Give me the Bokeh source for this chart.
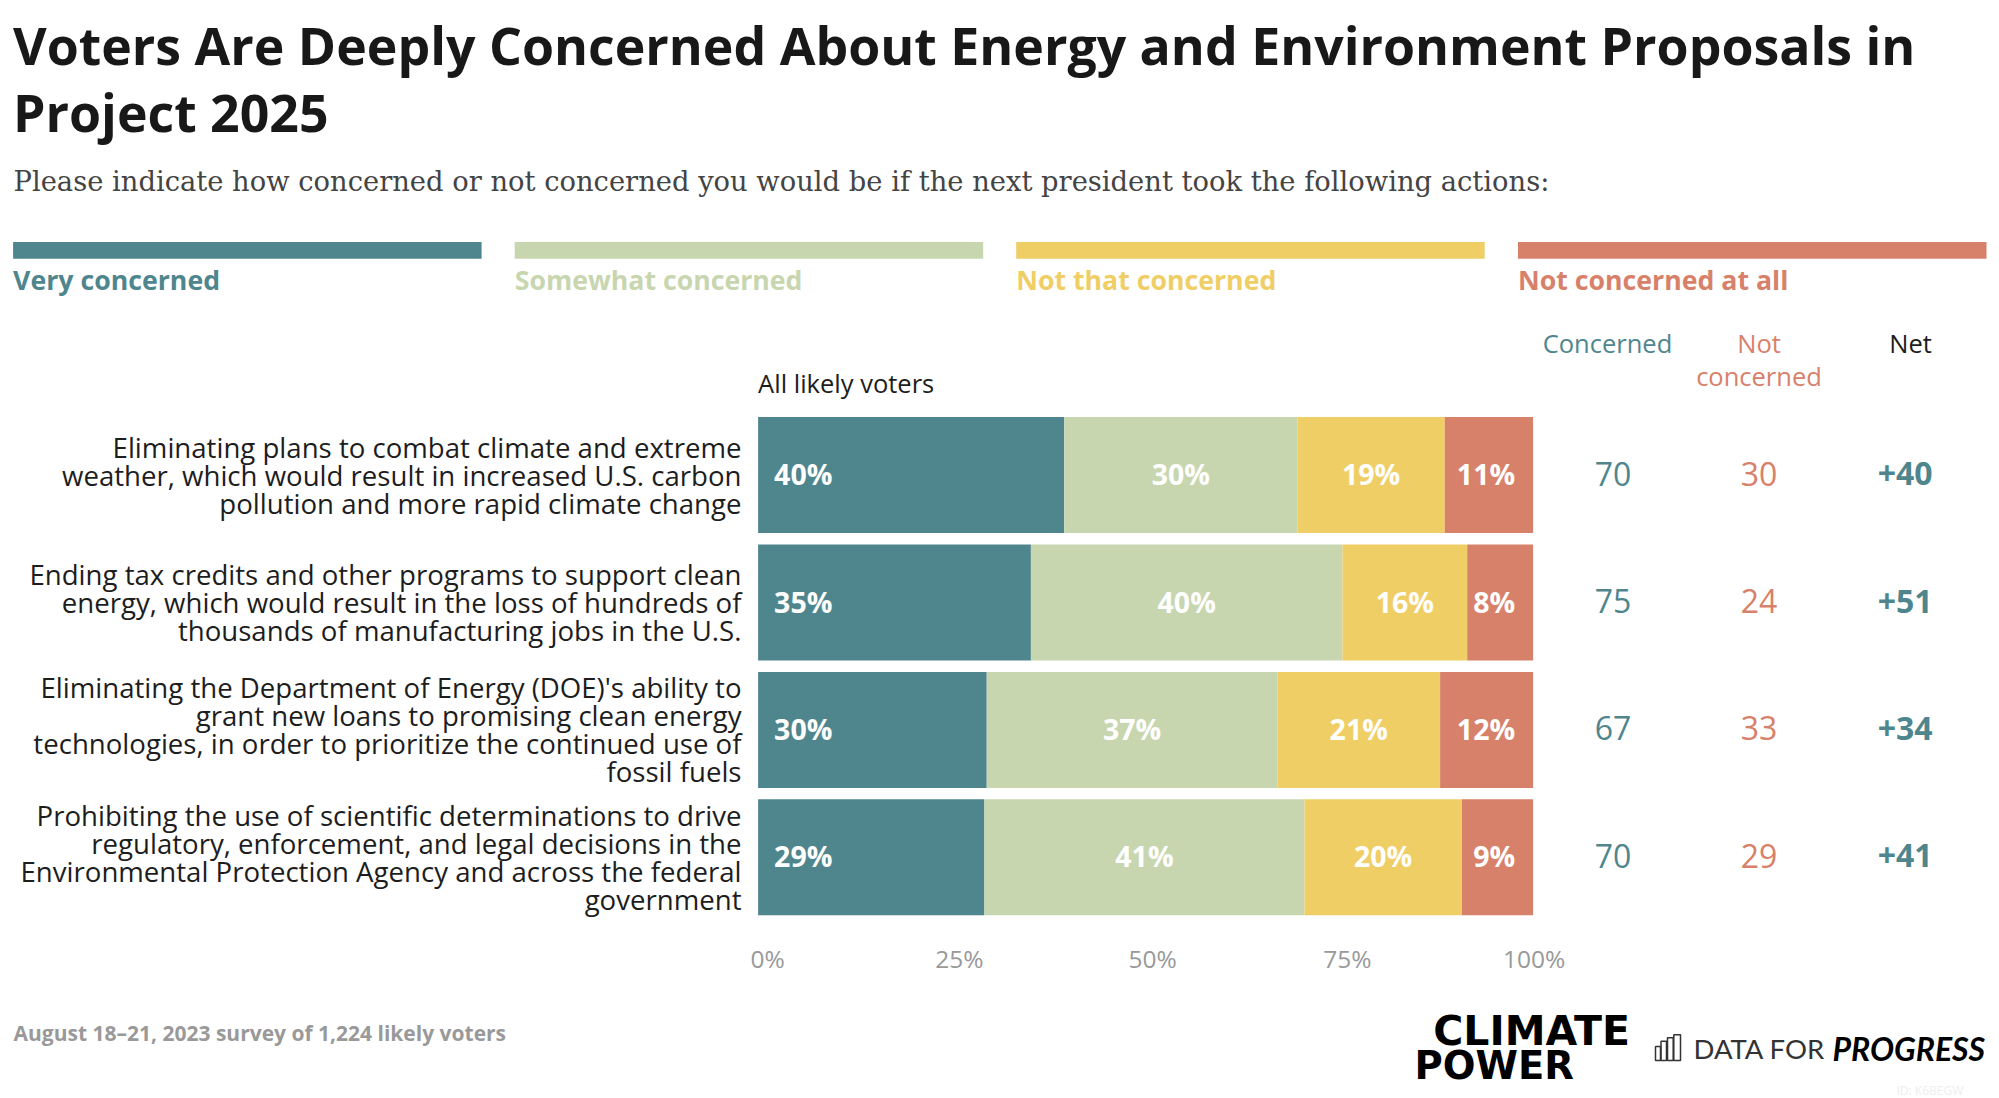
from bokeh.plotting import figure
from bokeh.models import Range1d, ColumnDataSource
from bokeh.core.properties import value
from bokeh.embed import file_html
from bokeh.resources import INLINE

# ---- data ----
statements = [
    ["Eliminating plans to combat climate and extreme",
     "weather, which would result in increased U.S. carbon",
     "pollution and more rapid climate change"],
    ["Ending tax credits and other programs to support clean",
     "energy, which would result in the loss of hundreds of",
     "thousands of manufacturing jobs in the U.S."],
    ["Eliminating the Department of Energy (DOE)'s ability to",
     "grant new loans to promising clean energy",
     "technologies, in order to prioritize the continued use of",
     "fossil fuels"],
    ["Prohibiting the use of scientific determinations to drive",
     "regulatory, enforcement, and legal decisions in the",
     "Environmental Protection Agency and across the federal",
     "government"],
]
series_names = ["Very concerned", "Somewhat concerned", "Not that concerned", "Not concerned at all"]
very = [39.5, 35.2, 29.5, 29.2]
somewhat = [30.1, 40.2, 37.5, 41.3]
not_that = [19.0, 16.1, 21.0, 20.3]
not_at_all = [11.4, 8.5, 12.0, 9.2]
very_lbl = ["40%", "35%", "30%", "29%"]
somewhat_lbl = ["30%", "40%", "37%", "41%"]
not_that_lbl = ["19%", "16%", "21%", "20%"]
not_at_all_lbl = ["11%", "8%", "12%", "9%"]
concerned = ["70", "75", "67", "70"]
not_concerned = ["30", "24", "33", "29"]
net = ["+40", "+51", "+34", "+41"]
tick_values = [0, 25, 50, 75, 100]
tick_labels = ["0%", "25%", "50%", "75%", "100%"]

TEAL, GREEN, YELLOW, RED = "#4f868e", "#c8d6af", "#f0ce66", "#d8816a"
colors = [TEAL, GREEN, YELLOW, RED]
BODY = "Open Sans"
W, H = 1999, 1098

# pixel geometry of the plot area (page coordinates)
X0, X100 = 757.6, 1532.6
Y_FIRST, PITCH, BAR_H = 474.6, 127.4, 116.0
ppu = (X100 - X0) / 100

p = figure(width=W, height=H, output_backend="svg", toolbar_location=None, min_border=0,
           x_range=Range1d(-X0 / ppu, (W - X0) / ppu),
           y_range=Range1d((H - Y_FIRST) / PITCH, -Y_FIRST / PITCH))
p.xaxis.visible = False
p.yaxis.visible = False
p.grid.visible = False
p.outline_line_color = None
p.background_fill_color = "white"
p.border_fill_color = "white"
p.extra_x_ranges["px"] = Range1d(0, W)
p.extra_y_ranges["px"] = Range1d(H, 0)


def T(x, y, s, size, color="#1d1d1d", align="left", font=BODY, style="normal"):
    p.text(x=[x], y=[y], text=[s], x_range_name="px", y_range_name="px",
           text_font=value(font), text_font_size=f"{size}px", text_font_style=style,
           text_color=color, text_align=align, text_baseline="middle")


# title / subtitle
T(12.5, 44.5, "Voters Are Deeply Concerned About Energy and Environment Proposals in", 51.8, "#181818", style="bold")
T(12.5, 111.5, "Project 2025", 51.8, "#181818", style="bold")
T(13, 181, "Please indicate how concerned or not concerned you would be if the next president took the following actions:",
  27.35, "#444444", font="DejaVu Serif")

# legend
lx = [12.6, 514.2, 1015.7, 1517.5]
for x, name, c in zip(lx, series_names, colors):
    p.quad(left=[x], right=[x + 468.5], top=[241.5], bottom=[258.2], color=c, line_color=None,
           x_range_name="px", y_range_name="px")
    T(x, 279, name, 26.7, c, style="bold")

# column headers
T(757.6, 382.5, "All likely voters", 25.5)
T(1607, 342.5, "Concerned", 25.5, TEAL, "center")
T(1758.5, 342.5, "Not", 25.5, RED, "center")
T(1758.5, 375.5, "concerned", 25.5, RED, "center")
T(1910, 342.5, "Net", 25.5, "#1d1d1d", "center")

# stacked bars
rows = list(range(len(very)))
left = [0.0] * 4
series = [very, somewhat, not_that, not_at_all]
labels = [very_lbl, somewhat_lbl, not_that_lbl, not_at_all_lbl]
bh = BAR_H / PITCH
for k, (vals, lbls, c) in enumerate(zip(series, labels, colors)):
    right = [a + b for a, b in zip(left, vals)]
    src = ColumnDataSource(dict(y=rows, left=left, right=right, mid=[(a + b) / 2 for a, b in zip(left, right)], t=lbls))
    p.hbar(y="y", left="left", right="right", height=bh, source=src, color=c, line_color=None)
    if k == 0:
        xf, align, off = "left", "left", 16
    elif k == 3:
        xf, align, off = "right", "right", -18
    else:
        xf, align, off = "mid", "center", 0
    p.text(x=xf, y="y", text="t", source=src, text_color="white", text_font=value(BODY),
           text_font_style="bold", text_font_size="28.5px", text_align=align,
           text_baseline="middle", x_offset=off, y_offset=-1)
    left = right

# statements
for i, lines in enumerate(statements):
    cy = Y_FIRST + i * PITCH - 0.6
    n = len(lines)
    for j, line in enumerate(lines):
        T(741, cy + (j - (n - 1) / 2) * 28, line, 27.6, "#1d1d1d", "right")

# summary columns
for xc, vals, col, sty in [(1612.5, concerned, TEAL, "normal"), (1758.6, not_concerned, RED, "normal"),
                           (1904.6, net, TEAL, "bold")]:
    p.text(x=[(xc - X0) / ppu] * 4, y=rows, text=vals, text_color=col, text_font=value(BODY),
           text_font_style=sty, text_font_size="32px", text_align="center",
           text_baseline="middle", y_offset=-1.5)

# tick labels
tick_off = [9.5, 7.5, 7, 8, 1]
p.text(x=tick_values, y=[(957.5 - Y_FIRST) / PITCH] * 5, text=tick_labels, text_color="#999999",
       text_font=value(BODY), text_font_size="24.5px", text_align="center", text_baseline="middle", x_offset=tick_off)

# footer
T(13, 1032, "August 18\u201321, 2023 survey of 1,224 likely voters", 21, "#999999", style="bold")
T(1629.5, 1030, "CLIMATE", 41, "#000000", "right", "DejaVu Sans", "bold")
T(1414, 1065, "POWER", 38.5, "#000000", "left", "DejaVu Sans", "bold")
T(1693, 1048, "DATA FOR", 27.5, "#333333", font="Lato")
T(1832, 1048, "PROGRESS", 32, "#000000", font="Lato", style="bold italic")
T(1896, 1090, "ID: K6BEGW", 12, "#eeeeee")

# Data for Progress bar icon
p.quad(left=[1655, 1660.5, 1667, 1673.3], right=[1660, 1666, 1672.7, 1680],
       top=[1046, 1040.7, 1037.3, 1034.3], bottom=[1060, 1060, 1060, 1060],
       fill_color=None, line_color="#333333", line_width=1.5, x_range_name="px", y_range_name="px")

open("out.html", "w").write(file_html(p, INLINE))
